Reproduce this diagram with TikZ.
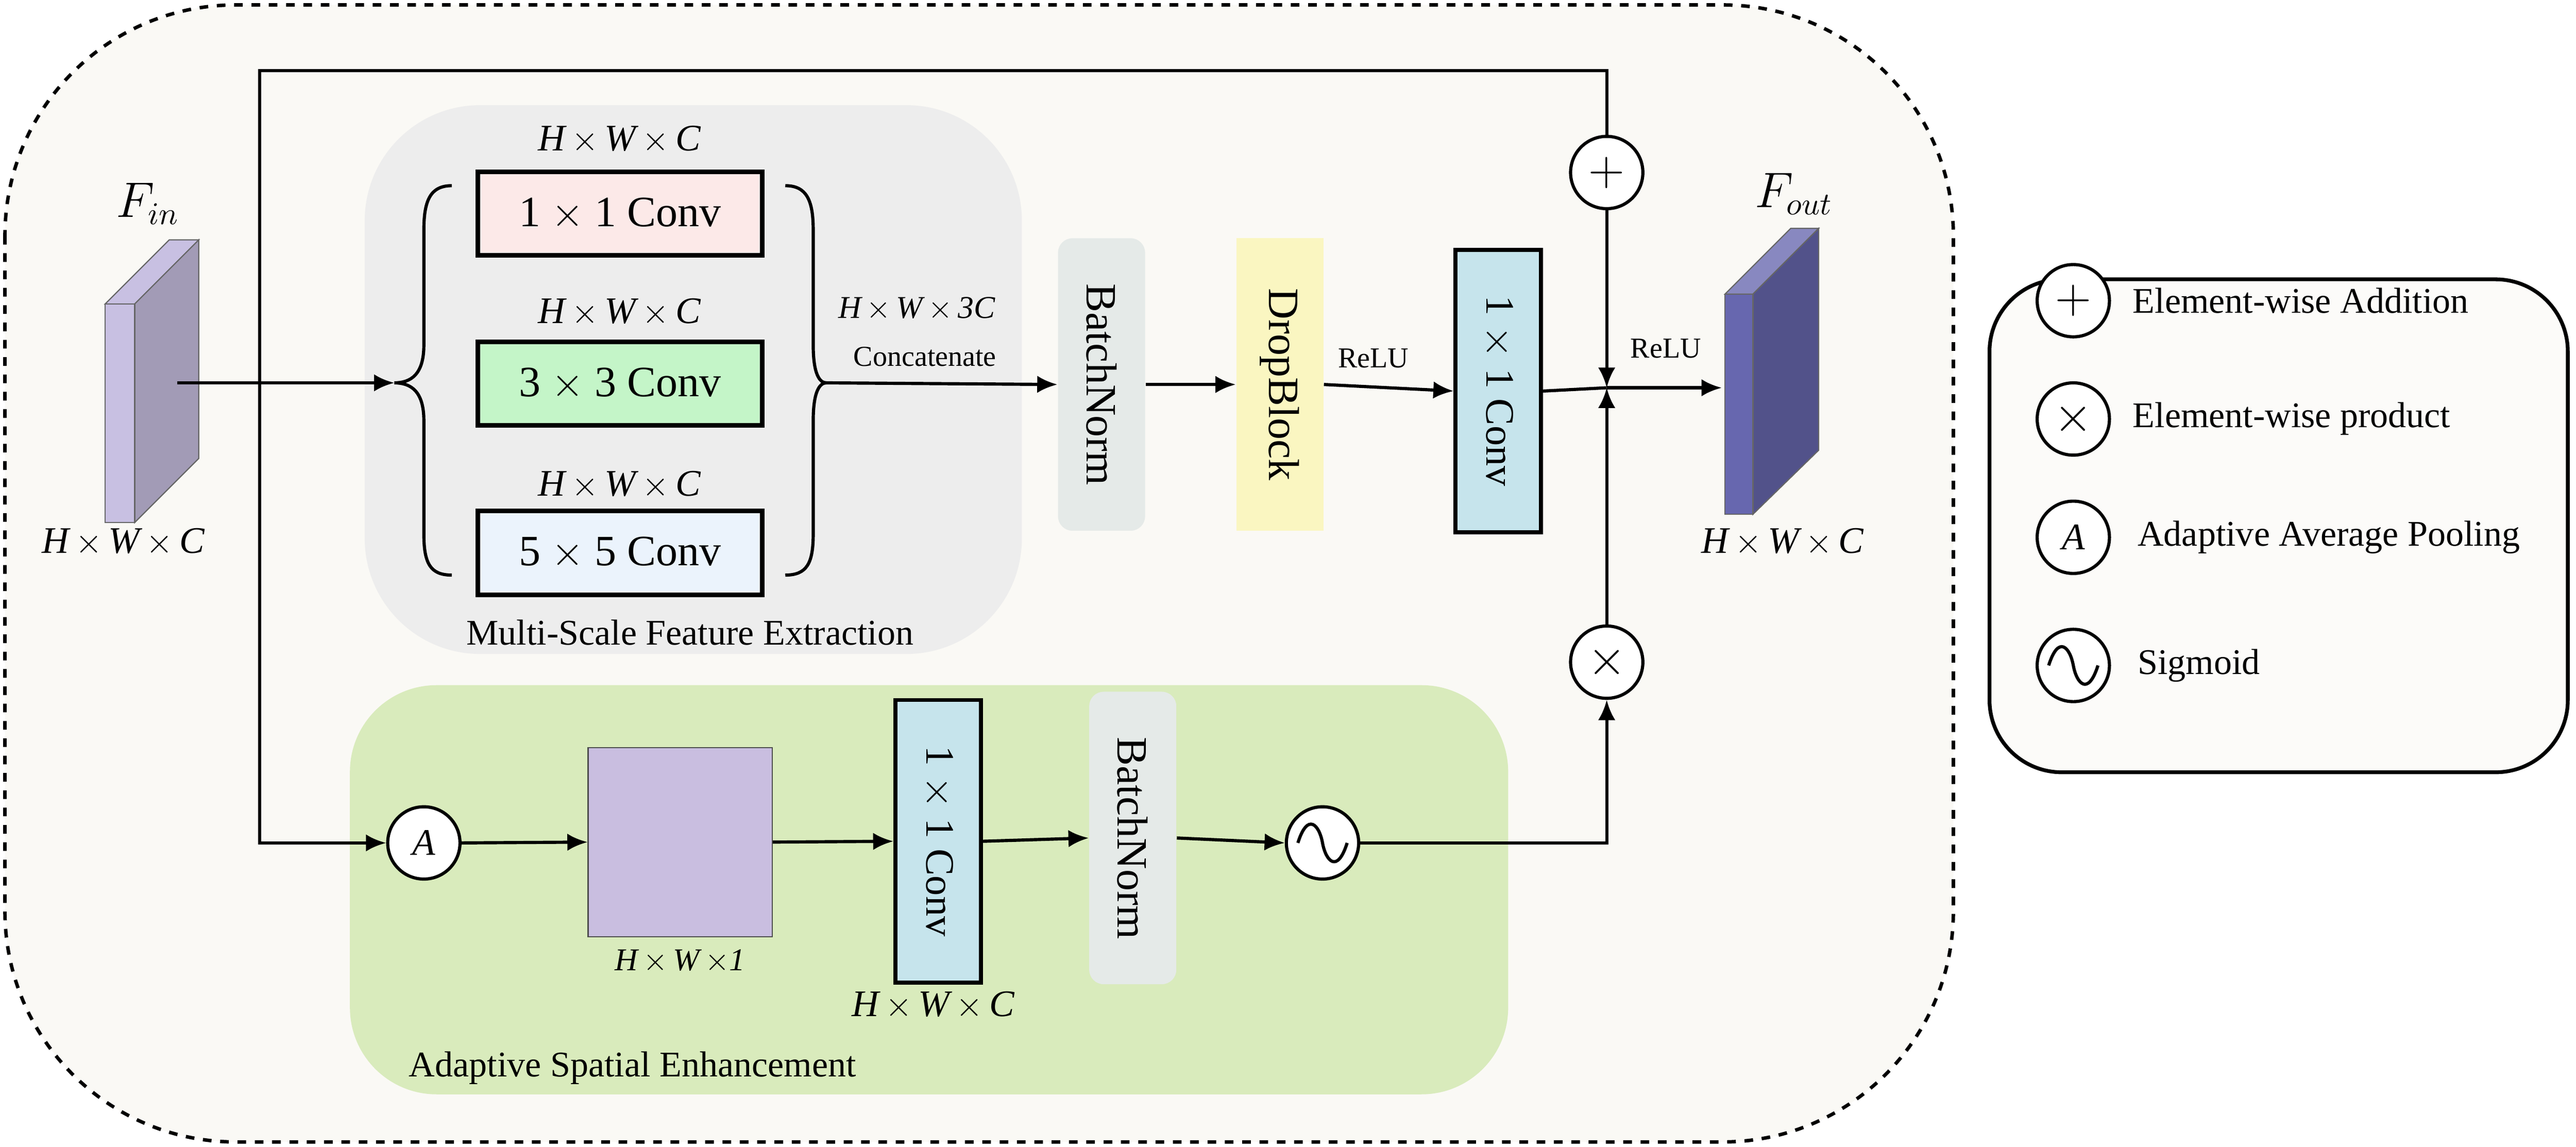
\documentclass[tikz,border=0pt]{standalone}
\usepackage{fontspec}
\setmainfont{Liberation Serif}
\usetikzlibrary{arrows.meta,decorations.pathreplacing,calc}
\tikzset{
  ln/.style={line width=1.1pt},
  arr/.style={ln,-{Latex[length=7pt,width=6pt]}},
  convbox/.style={draw,line width=1.6pt,minimum width=34.6mm,minimum height=10.2mm,font=\fontsize{15}{15}\selectfont},
  vbox/.style={rounded corners=5pt,minimum height=10.6mm,minimum width=35.6mm,font=\fontsize{15}{15}\selectfont,rotate=-90},
  vconv/.style={draw,line width=1.4pt,fill=convc,minimum height=10.4mm,minimum width=34.4mm,font=\fontsize{14}{14}\selectfont,rotate=-90},
  opc/.style={draw,circle,ln,minimum size=8.8mm,inner sep=0pt,fill=white,font=\fontsize{17}{17}\selectfont},
  dim/.style={font=\fontsize{13}{13}\selectfont\itshape},
  sm/.style={font=\fontsize{10}{10}\selectfont},
  lg/.style={font=\fontsize{12.5}{12.5}\selectfont,anchor=west}
}
\definecolor{bgc}{HTML}{FAF9F5}
\definecolor{grayc}{HTML}{EDEDED}
\definecolor{greenc}{HTML}{D9EBBC}
\definecolor{convc}{HTML}{C6E4EC}
\definecolor{bnc}{HTML}{E5EAE8}
\definecolor{dbc}{HTML}{FAF6C1}
\begin{document}
\begin{tikzpicture}[x=0.2mm,y=-0.2mm]
\useasboundingbox (0,0) rectangle (1568,698);
% outer
\draw[dashed,line width=1.2pt,fill=bgc,rounded corners=80] (3,3) rectangle (1189,695);
% legend
\draw[line width=1.3pt,fill=bgc!60!white,rounded corners=25] (1211,170) rectangle (1563,470);
% group boxes
\fill[grayc,rounded corners=40] (222,64) rectangle (622,398);
\node[font=\fontsize{12.5}{12.5}\selectfont] (msfe) at (420,385) {Multi-Scale Feature Extraction};
\fill[greenc,rounded corners=30] (213,417) rectangle (918,666);
\node[font=\fontsize{12.5}{12.5}\selectfont] (ase) at (385,650) {Adaptive Spatial Enhancement};
% Fin slab
\fill[fill={rgb,255:red,200;green,192;blue,226},draw=black!60] (64,185) -- (103,146) -- (121,146) -- (82,185) -- cycle;
\fill[fill={rgb,255:red,162;green,155;blue,182},draw=black!60] (82,185) -- (121,146) -- (121,279) -- (82,318) -- cycle;
\draw[fill={rgb,255:red,200;green,192;blue,226},draw=black!60] (64,185) rectangle (82,318);
\node (fin) at (90,124) {\fontsize{16}{16}\selectfont$F_{in}$};
\node[dim] (findim) at (75,330) {H\,$\times$\,W\,$\times$\,C};
\coordinate (fin0) at (108,233);
% conv boxes
\node[convbox,fill={rgb,255:red,252;green,233;blue,232}] (c1) at (377.5,130) {1 $\times$ 1 Conv};
\node[convbox,fill={rgb,255:red,196;green,245;blue,200}] (c3) at (377.5,233.5) {3 $\times$ 3 Conv};
\node[convbox,fill={rgb,255:red,235;green,243;blue,252}] (c5) at (377.5,336.5) {5 $\times$ 5 Conv};
\node[dim] (d1) at (377,85) {H\,$\times$\,W\,$\times$\,C};
\node[dim] (d3) at (377,190) {H\,$\times$\,W\,$\times$\,C};
\node[dim] (d5) at (377,295) {H\,$\times$\,W\,$\times$\,C};
% braces
\coordinate (lb) at (240,233);
\coordinate (rb) at (503,233);
\draw[ln] (275,113) .. controls (262,113) and (258,122) .. (258,140) -- (258,210) .. controls (258,228) and (250,233) .. (lb)
  .. controls (250,233) and (258,238) .. (258,256) -- (258,325) .. controls (258,343) and (262,350) .. (275,350);
\draw[ln] (478,113) .. controls (491,113) and (495,122) .. (495,140) -- (495,210) .. controls (495,228) and (499,233) .. (rb)
  .. controls (499,233) and (495,238) .. (495,256) -- (495,325) .. controls (495,343) and (491,350) .. (478,350);
\node[font=\fontsize{11}{11}\selectfont\itshape] (d3c) at (558,188) {H\,$\times$\,W\,$\times$\,3C};
\node[sm] (concat) at (563,217) {Concatenate};
% main row
\node[vbox,fill=bnc] (bn1) at (670.5,234) {BatchNorm};
\node[vbox,fill=dbc,rounded corners=0pt] (db) at (779,234) {DropBlock};
\node[vconv] (cv1) at (912,238) {1 $\times$ 1 Conv};
\node[sm] (relu1) at (836,218) {ReLU};
\node[sm] (relu2) at (1014,212) {ReLU};
\node[opc] (plus) at (978,105) {$+$};
\node[opc] (times) at (978,403) {$\times$};
\coordinate (j) at (978,236);
% Fout slab
\fill[fill={rgb,255:red,136;green,136;blue,192},draw=black!60] (1050,179) -- (1090,139) -- (1107,139) -- (1067,179) -- cycle;
\fill[fill={rgb,255:red,82;green,82;blue,138},draw=black!60] (1067,179) -- (1107,139) -- (1107,274) -- (1067,313) -- cycle;
\draw[fill={rgb,255:red,103;green,103;blue,175},draw=black!60] (1050,179) rectangle (1067,313);
\node (fout) at (1092,118) {\fontsize{16}{16}\selectfont$F_{out}$};
\node[dim] (foutdim) at (1085,330) {H\,$\times$\,W\,$\times$\,C};
\coordinate (fout0) at (1048,236);
% bottom row
\node[opc,font=\fontsize{13}{13}\selectfont\itshape] (A) at (258,513) {A};
\draw[fill={rgb,255:red,201;green,190;blue,224},draw=black!70] (358,455) rectangle (470,570);
\node (sq) at (414,512.5) [minimum width=22.4mm,minimum height=23mm] {};
\node[dim,font=\fontsize{11}{11}\selectfont\itshape] (sqd) at (414,585) {H\,$\times$\,W\,$\times$1};
\node[vconv] (cv2) at (571,512) {1 $\times$ 1 Conv};
\node[dim] (cv2d) at (568,612) {H\,$\times$\,W\,$\times$\,C};
\node[vbox,fill=bnc] (bn2) at (689.5,510) {BatchNorm};
\node[opc] (sig) at (805,513) {};
\draw[ln] ($(sig)+(-15,0)$) .. controls ($(sig)+(-9,-19)$) and ($(sig)+(-2,-11)$) .. (sig.center) .. controls ($(sig)+(2,11)$) and ($(sig)+(9,19)$) .. ($(sig)+(15,0)$);
% connectors
\draw[arr] (fin0) -- (lb);
\draw[ln] (158,513) -- (158,43) -| (plus.north);
\draw[arr] (158,500) |- (A.west);
\draw[arr] (rb) -- (bn1.south);
\draw[arr] (bn1.north) -- (db.south);
\draw[arr] (db.north) -- (cv1.south);
\draw[ln] (cv1.north) -- (j);
\draw[arr] (j) -- (fout0);
\draw[arr] (plus.south) -- (j);
\draw[arr] (times.north) -- (j);
\draw[arr] (A.east) -- (sq.west);
\draw[arr] (sq.east) -- (cv2.south);
\draw[arr] (cv2.north) -- (bn2.south);
\draw[arr] (bn2.north) -- (sig.west);
\draw[arr] (sig.east) -| (times.south);
% legend
\node[opc] (lp) at (1262,183) {$+$};
\node[opc] (lt) at (1262,255) {$\times$};
\node[opc,font=\fontsize{13}{13}\selectfont\itshape] (la) at (1262,327) {A};
\node[opc] (ls) at (1262,405) {};
\draw[ln] ($(ls)+(-15,0)$) .. controls ($(ls)+(-9,-19)$) and ($(ls)+(-2,-11)$) .. (ls.center) .. controls ($(ls)+(2,11)$) and ($(ls)+(9,19)$) .. ($(ls)+(15,0)$);
\node[lg] (lpt) at (1292,183) {Element-wise Addition};
\node[lg] (ltt) at (1292,255) {Element-wise product};
\node[lg] (lat) at (1295,327) {Adaptive Average Pooling};
\node[lg] (lst) at (1295,405) {Sigmoid};
\end{tikzpicture}
\end{document}
